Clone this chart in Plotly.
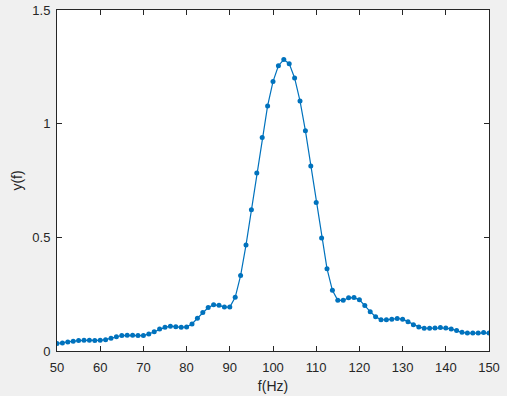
import plotly.graph_objects as go

freq = [50 + 1.25 * i for i in range(81)]
y_vals = [
    0.033, 0.035, 0.040, 0.043, 0.046, 0.047, 0.047, 0.046, 0.047, 0.050,
    0.056, 0.063, 0.068, 0.069, 0.069, 0.068, 0.068, 0.075, 0.085, 0.097,
    0.104, 0.109, 0.107, 0.104, 0.106, 0.119, 0.144, 0.169, 0.191, 0.203,
    0.201, 0.193, 0.193, 0.236, 0.332, 0.466, 0.621, 0.783, 0.939, 1.078,
    1.185, 1.255, 1.282, 1.264, 1.201, 1.100, 0.969, 0.814, 0.653, 0.497,
    0.362, 0.267, 0.223, 0.223, 0.234, 0.235, 0.225, 0.200, 0.173, 0.151,
    0.138, 0.137, 0.140, 0.143, 0.140, 0.129, 0.116, 0.106, 0.100, 0.100,
    0.101, 0.103, 0.101, 0.097, 0.090, 0.082, 0.079, 0.079, 0.079, 0.081,
    0.079,
]
x_ticks = [50, 60, 70, 80, 90, 100, 110, 120, 130, 140, 150]
y_ticks = [0, 0.5, 1, 1.5]
y_tick_labels = ["0", "0.5", "1", "1.5"]

fig = go.Figure()
fig.add_trace(go.Scatter(
    x=freq, y=y_vals, mode="lines+markers",
    line=dict(color="#0072BD", width=1.2),
    marker=dict(color="#0072BD", size=5),
    showlegend=False,
))

axis_common = dict(
    showgrid=False, zeroline=False, showline=True, linecolor="#262626",
    linewidth=1, mirror="ticks", ticks="inside", ticklen=5, tickcolor="#262626",
    tickfont=dict(family="Liberation Sans, Arial", size=13, color="#262626"),
)

fig.update_layout(
    width=507, height=396,
    margin=dict(l=57, r=18, t=10, b=45, autoexpand=False),
    paper_bgcolor="#f0f0f0", plot_bgcolor="#ffffff",
    xaxis=dict(range=[50, 150], tickvals=x_ticks, ticklabelstandoff=4,
               title=dict(text="f(Hz)", standoff=7,
                          font=dict(family="Liberation Sans, Arial", size=14, color="#262626")),
               **axis_common),
    yaxis=dict(range=[0, 1.5], tickvals=y_ticks, ticktext=y_tick_labels,
               ticklabelstandoff=3,
               title=dict(text="y(f)", standoff=6,
                          font=dict(family="Liberation Sans, Arial", size=14, color="#262626")),
               **axis_common),
)

fig.write_html(
    "out.html",
    config={"displayModeBar": False},
    post_script="document.body.style.margin='0';document.body.style.overflow='hidden';",
)
